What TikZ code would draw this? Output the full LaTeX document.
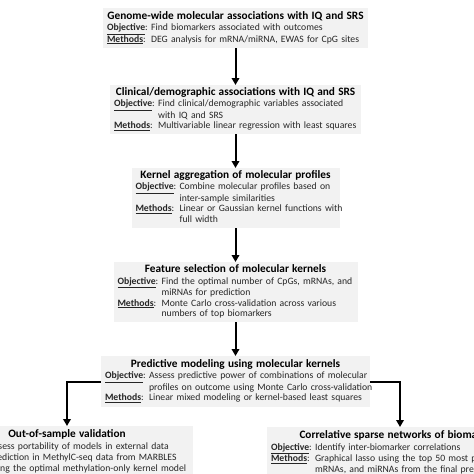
\documentclass[tikz,border=0pt]{standalone}
\usepackage{fontspec}
\setmainfont{Carlito}
\usetikzlibrary{positioning,arrows.meta}

\begin{document}
\begin{tikzpicture}[x=1pt, y=-1pt, font=\fontsize{9.7}{10.8}\selectfont,
  stage/.style={fill=black!5, anchor=north, align=left, inner xsep=4pt, inner ysep=2pt, text=black!85},
  arr/.style={-{Triangle[length=7pt,width=7.5pt]}, line width=2pt, black}]
\useasboundingbox (0,0) rectangle (474,474);
\clip (0,0) rectangle (474,474);
% main column
\node[stage, text width=257pt, minimum height=40pt] (gwas) at (235.5,8) {%
  \makebox[\linewidth]{\textcolor{black}{\fontsize{11.3}{12}\selectfont\bfseries Genome-wide molecular associations with IQ and SRS}}\\[1pt]
  \begin{tabular}[t]{@{}l@{\ }l@{}}
  \underline{\textbf{Objective}}: & Find biomarkers associated with outcomes\\
  \underline{\textbf{Methods}}: & DEG analysis for mRNA/miRNA, EWAS for CpG sites
  \end{tabular}};
\node[stage, text width=243pt, minimum height=48pt] (clin) at (235.5,85) {%
  \makebox[\linewidth]{\textcolor{black}{\fontsize{11.3}{12}\selectfont\bfseries Clinical/demographic associations with IQ and SRS}}\\[1pt]
  \begin{tabular}[t]{@{}l@{\ }l@{}}
  \underline{\textbf{Objective}}: & Find clinical/demographic variables associated\\
   & with IQ and SRS\\
  \underline{\textbf{Methods}}: & Multivariable linear regression with least squares
  \end{tabular}};
\node[stage, text width=200pt, minimum height=59pt] (kern) at (235.5,168) {%
  \makebox[\linewidth]{\textcolor{black}{\fontsize{11.3}{12}\selectfont\bfseries Kernel aggregation of molecular profiles}}\\[1pt]
  \begin{tabular}[t]{@{}l@{\ }l@{}}
  \underline{\textbf{Objective}}: & Combine molecular profiles based on\\
   & inter-sample similarities\\
  \underline{\textbf{Methods}}: & Linear or Gaussian kernel functions with\\
   & full width
  \end{tabular}};
\node[stage, text width=236pt, minimum height=60pt] (feat) at (235.5,262) {%
  \makebox[\linewidth]{\textcolor{black}{\fontsize{11.3}{12}\selectfont\bfseries Feature selection of molecular kernels}}\\[1pt]
  \begin{tabular}[t]{@{}l@{\ }l@{}}
  \underline{\textbf{Objective}}: & Find the optimal number of CpGs, mRNAs, and\\
   & miRNAs for prediction\\
  \underline{\textbf{Methods}}: & Monte Carlo cross-validation across various\\
   & numbers of top biomarkers
  \end{tabular}};
\node[stage, text width=261pt, minimum height=51pt] (pred) at (235.5,356) {%
  \makebox[\linewidth]{\textcolor{black}{\fontsize{11.3}{12}\selectfont\bfseries Predictive modeling using molecular kernels}}\\[1pt]
  \begin{tabular}[t]{@{}l@{\ }l@{}}
  \underline{\textbf{Objective}}: & Assess predictive power of combinations of molecular\\
   & profiles on outcome using Monte Carlo cross-validation\\
  \underline{\textbf{Methods}}: & Linear mixed modeling or kernel-based least squares
  \end{tabular}};
% two branches
\node[stage, text width=244pt, minimum height=52pt] (valid) at (67,426) {%
  \makebox[\linewidth]{\textcolor{black}{\fontsize{11.3}{12}\selectfont\bfseries Out-of-sample validation}}\\[1pt]
  \begin{tabular}[t]{@{}l@{\ }l@{}}
  \underline{\textbf{Objective}}: & Assess portability of models in external data\\
  \underline{\textbf{Methods}}: & Prediction in MethylC-seq data from MARBLES\\
   & using the optimal methylation-only kernel model
  \end{tabular}};
\node[stage, text width=258pt, minimum height=52pt] (netw) at (400,427) {%
  \makebox[\linewidth]{\textcolor{black}{\fontsize{11.3}{12}\selectfont\bfseries Correlative sparse networks of biomarkers}}\\[1pt]
  \begin{tabular}[t]{@{}l@{\ }l@{}}
  \underline{\textbf{Objective}}: & Identify inter-biomarker correlations\\
  \underline{\textbf{Methods}}: & Graphical lasso using the top 50 most predictive CpGs,\\
   & mRNAs, and miRNAs from the final predictive model
  \end{tabular}};
\draw[arr] (gwas) -- (clin); \draw[arr] (clin) -- (kern); \draw[arr] (kern) -- (feat); \draw[arr] (feat) -- (pred);
\draw[arr] (pred.west) -| (valid.north); \draw[arr] (pred.east) -| (netw.north);
\end{tikzpicture}
\end{document}
